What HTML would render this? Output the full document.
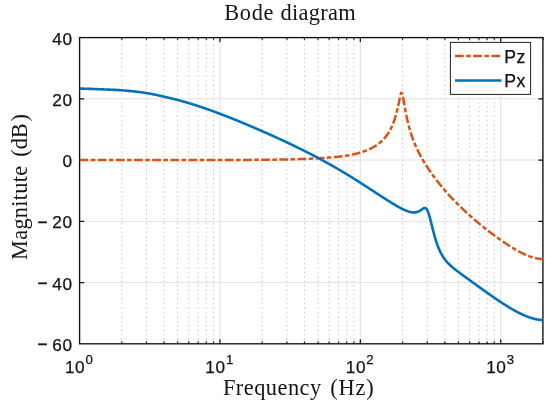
<!DOCTYPE html>
<html><head><meta charset="utf-8"><title>Bode diagram</title>
<style>html,body{margin:0;padding:0;background:#fff}body{width:550px;height:407px;position:relative;overflow:hidden}</style>
</head><body>
<svg width="550" height="407" viewBox="0 0 550 407" style="position:absolute;left:0;top:0">
<line x1="121.77" y1="39.75" x2="121.77" y2="343.9" stroke="#bfbfbf" stroke-width="1" stroke-dasharray="1.3 3.16"/>
<line x1="146.49" y1="39.75" x2="146.49" y2="343.9" stroke="#bfbfbf" stroke-width="1" stroke-dasharray="1.3 3.16"/>
<line x1="164.04" y1="39.75" x2="164.04" y2="343.9" stroke="#bfbfbf" stroke-width="1" stroke-dasharray="1.3 3.16"/>
<line x1="177.64" y1="39.75" x2="177.64" y2="343.9" stroke="#bfbfbf" stroke-width="1" stroke-dasharray="1.3 3.16"/>
<line x1="188.76" y1="39.75" x2="188.76" y2="343.9" stroke="#bfbfbf" stroke-width="1" stroke-dasharray="1.3 3.16"/>
<line x1="198.16" y1="39.75" x2="198.16" y2="343.9" stroke="#bfbfbf" stroke-width="1" stroke-dasharray="1.3 3.16"/>
<line x1="206.30" y1="39.75" x2="206.30" y2="343.9" stroke="#bfbfbf" stroke-width="1" stroke-dasharray="1.3 3.16"/>
<line x1="213.49" y1="39.75" x2="213.49" y2="343.9" stroke="#bfbfbf" stroke-width="1" stroke-dasharray="1.3 3.16"/>
<line x1="219.91" y1="37.5" x2="219.91" y2="343.9" stroke="#e1e1e1" stroke-width="1"/>
<line x1="262.18" y1="39.75" x2="262.18" y2="343.9" stroke="#bfbfbf" stroke-width="1" stroke-dasharray="1.3 3.16"/>
<line x1="286.90" y1="39.75" x2="286.90" y2="343.9" stroke="#bfbfbf" stroke-width="1" stroke-dasharray="1.3 3.16"/>
<line x1="304.45" y1="39.75" x2="304.45" y2="343.9" stroke="#bfbfbf" stroke-width="1" stroke-dasharray="1.3 3.16"/>
<line x1="318.05" y1="39.75" x2="318.05" y2="343.9" stroke="#bfbfbf" stroke-width="1" stroke-dasharray="1.3 3.16"/>
<line x1="329.17" y1="39.75" x2="329.17" y2="343.9" stroke="#bfbfbf" stroke-width="1" stroke-dasharray="1.3 3.16"/>
<line x1="338.57" y1="39.75" x2="338.57" y2="343.9" stroke="#bfbfbf" stroke-width="1" stroke-dasharray="1.3 3.16"/>
<line x1="346.71" y1="39.75" x2="346.71" y2="343.9" stroke="#bfbfbf" stroke-width="1" stroke-dasharray="1.3 3.16"/>
<line x1="353.90" y1="39.75" x2="353.90" y2="343.9" stroke="#bfbfbf" stroke-width="1" stroke-dasharray="1.3 3.16"/>
<line x1="360.32" y1="37.5" x2="360.32" y2="343.9" stroke="#e1e1e1" stroke-width="1"/>
<line x1="402.59" y1="39.75" x2="402.59" y2="343.9" stroke="#bfbfbf" stroke-width="1" stroke-dasharray="1.3 3.16"/>
<line x1="427.31" y1="39.75" x2="427.31" y2="343.9" stroke="#bfbfbf" stroke-width="1" stroke-dasharray="1.3 3.16"/>
<line x1="444.86" y1="39.75" x2="444.86" y2="343.9" stroke="#bfbfbf" stroke-width="1" stroke-dasharray="1.3 3.16"/>
<line x1="458.46" y1="39.75" x2="458.46" y2="343.9" stroke="#bfbfbf" stroke-width="1" stroke-dasharray="1.3 3.16"/>
<line x1="469.58" y1="39.75" x2="469.58" y2="343.9" stroke="#bfbfbf" stroke-width="1" stroke-dasharray="1.3 3.16"/>
<line x1="478.98" y1="39.75" x2="478.98" y2="343.9" stroke="#bfbfbf" stroke-width="1" stroke-dasharray="1.3 3.16"/>
<line x1="487.12" y1="39.75" x2="487.12" y2="343.9" stroke="#bfbfbf" stroke-width="1" stroke-dasharray="1.3 3.16"/>
<line x1="494.31" y1="39.75" x2="494.31" y2="343.9" stroke="#bfbfbf" stroke-width="1" stroke-dasharray="1.3 3.16"/>
<line x1="500.73" y1="37.5" x2="500.73" y2="343.9" stroke="#e1e1e1" stroke-width="1"/>
<line x1="543.00" y1="39.75" x2="543.00" y2="343.9" stroke="#bfbfbf" stroke-width="1" stroke-dasharray="1.3 3.16"/>
<line x1="79.5" y1="98.78" x2="543.0" y2="98.78" stroke="#e1e1e1" stroke-width="1"/>
<line x1="79.5" y1="160.06" x2="543.0" y2="160.06" stroke="#e1e1e1" stroke-width="1"/>
<line x1="79.5" y1="221.34" x2="543.0" y2="221.34" stroke="#e1e1e1" stroke-width="1"/>
<line x1="79.5" y1="282.62" x2="543.0" y2="282.62" stroke="#e1e1e1" stroke-width="1"/>
<path d="M121.77,343.9v-2.3M121.77,37.5v2.3M146.49,343.9v-2.3M146.49,37.5v2.3M164.04,343.9v-2.3M164.04,37.5v2.3M177.64,343.9v-2.3M177.64,37.5v2.3M188.76,343.9v-2.3M188.76,37.5v2.3M198.16,343.9v-2.3M198.16,37.5v2.3M206.30,343.9v-2.3M206.30,37.5v2.3M213.49,343.9v-2.3M213.49,37.5v2.3M219.91,343.9v-4.6M219.91,37.5v4.6M262.18,343.9v-2.3M262.18,37.5v2.3M286.90,343.9v-2.3M286.90,37.5v2.3M304.45,343.9v-2.3M304.45,37.5v2.3M318.05,343.9v-2.3M318.05,37.5v2.3M329.17,343.9v-2.3M329.17,37.5v2.3M338.57,343.9v-2.3M338.57,37.5v2.3M346.71,343.9v-2.3M346.71,37.5v2.3M353.90,343.9v-2.3M353.90,37.5v2.3M360.32,343.9v-4.6M360.32,37.5v4.6M402.59,343.9v-2.3M402.59,37.5v2.3M427.31,343.9v-2.3M427.31,37.5v2.3M444.86,343.9v-2.3M444.86,37.5v2.3M458.46,343.9v-2.3M458.46,37.5v2.3M469.58,343.9v-2.3M469.58,37.5v2.3M478.98,343.9v-2.3M478.98,37.5v2.3M487.12,343.9v-2.3M487.12,37.5v2.3M494.31,343.9v-2.3M494.31,37.5v2.3M500.73,343.9v-4.6M500.73,37.5v4.6M543.00,343.9v-2.3M543.00,37.5v2.3M79.5,98.78h4.6M543.0,98.78h-4.6M79.5,160.06h4.6M543.0,160.06h-4.6M79.5,221.34h4.6M543.0,221.34h-4.6M79.5,282.62h4.6M543.0,282.62h-4.6" stroke="#111" stroke-width="1.2" fill="none"/>
<rect x="79.6" y="37.6" width="463.3" height="306.2" fill="none" stroke="#111" stroke-width="1.35"/>
<clipPath id="c"><rect x="79.5" y="37.5" width="463.5" height="306.4"/></clipPath>
<g clip-path="url(#c)" fill="none" stroke-linejoin="round">
<path d="M79.50,160.06 L79.75,160.06 L80.00,160.06 L80.25,160.06 L80.50,160.06 L80.75,160.06 L81.00,160.06 L81.25,160.06 L81.50,160.06 L81.75,160.06 L82.00,160.06 L82.25,160.06 L82.50,160.06 L82.75,160.06 L83.00,160.06 L83.25,160.06 L83.50,160.06 L83.75,160.06 L84.00,160.06 L84.25,160.06 L84.50,160.06 L84.75,160.06 L85.00,160.06 L85.25,160.06 L85.50,160.06 L85.75,160.06 L86.00,160.06 L86.25,160.06 L86.50,160.06 L86.75,160.06 L87.00,160.06 L87.25,160.06 L87.50,160.06 L87.75,160.06 L88.00,160.06 L88.25,160.06 L88.50,160.06 L88.75,160.06 L89.00,160.06 L89.25,160.06 L89.50,160.06 L89.75,160.06 L90.00,160.06 L90.25,160.06 L90.50,160.06 L90.75,160.06 L91.00,160.06 L91.25,160.06 L91.50,160.06 L91.75,160.06 L92.00,160.06 L92.25,160.06 L92.50,160.06 L92.75,160.06 L93.00,160.06 L93.25,160.06 L93.50,160.06 L93.75,160.06 L94.00,160.06 L94.25,160.06 L94.50,160.06 L94.75,160.06 L95.00,160.06 L95.25,160.06 L95.50,160.06 L95.75,160.06 L96.00,160.06 L96.25,160.06 L96.50,160.06 L96.75,160.06 L97.00,160.06 L97.25,160.06 L97.50,160.06 L97.75,160.06 L98.00,160.06 L98.25,160.06 L98.50,160.06 L98.75,160.06 L99.00,160.06 L99.25,160.06 L99.50,160.06 L99.75,160.06 L100.00,160.06 L100.25,160.06 L100.50,160.06 L100.75,160.06 L101.00,160.06 L101.25,160.06 L101.50,160.06 L101.75,160.06 L102.00,160.06 L102.25,160.06 L102.50,160.06 L102.75,160.06 L103.00,160.06 L103.25,160.06 L103.50,160.06 L103.75,160.06 L104.00,160.06 L104.25,160.06 L104.50,160.06 L104.75,160.06 L105.00,160.06 L105.25,160.06 L105.50,160.06 L105.75,160.06 L106.00,160.06 L106.25,160.06 L106.50,160.06 L106.75,160.06 L107.00,160.06 L107.25,160.06 L107.50,160.06 L107.75,160.06 L108.00,160.06 L108.25,160.06 L108.50,160.06 L108.75,160.06 L109.00,160.06 L109.25,160.06 L109.50,160.06 L109.75,160.06 L110.00,160.06 L110.25,160.06 L110.50,160.06 L110.75,160.06 L111.00,160.06 L111.25,160.06 L111.50,160.06 L111.75,160.06 L112.00,160.06 L112.25,160.06 L112.50,160.06 L112.75,160.06 L113.00,160.06 L113.25,160.06 L113.50,160.06 L113.75,160.06 L114.00,160.06 L114.25,160.06 L114.50,160.06 L114.75,160.06 L115.00,160.06 L115.25,160.06 L115.50,160.06 L115.75,160.06 L116.00,160.06 L116.25,160.06 L116.50,160.06 L116.75,160.06 L117.00,160.06 L117.25,160.06 L117.50,160.06 L117.75,160.06 L118.00,160.06 L118.25,160.06 L118.50,160.06 L118.75,160.06 L119.00,160.06 L119.25,160.06 L119.50,160.06 L119.75,160.06 L120.00,160.06 L120.25,160.06 L120.50,160.06 L120.75,160.06 L121.00,160.06 L121.25,160.06 L121.50,160.06 L121.75,160.06 L122.00,160.06 L122.25,160.06 L122.50,160.06 L122.75,160.06 L123.00,160.06 L123.25,160.06 L123.50,160.06 L123.75,160.06 L124.00,160.06 L124.25,160.06 L124.50,160.06 L124.75,160.06 L125.00,160.06 L125.25,160.06 L125.50,160.06 L125.75,160.06 L126.00,160.06 L126.25,160.06 L126.50,160.06 L126.75,160.06 L127.00,160.06 L127.25,160.06 L127.50,160.06 L127.75,160.06 L128.00,160.06 L128.25,160.06 L128.50,160.06 L128.75,160.06 L129.00,160.06 L129.25,160.06 L129.50,160.06 L129.75,160.06 L130.00,160.06 L130.25,160.06 L130.50,160.06 L130.75,160.06 L131.00,160.06 L131.25,160.06 L131.50,160.06 L131.75,160.06 L132.00,160.06 L132.25,160.06 L132.50,160.06 L132.75,160.06 L133.00,160.06 L133.25,160.06 L133.50,160.06 L133.75,160.06 L134.00,160.06 L134.25,160.06 L134.50,160.06 L134.75,160.06 L135.00,160.06 L135.25,160.06 L135.50,160.06 L135.75,160.06 L136.00,160.06 L136.25,160.06 L136.50,160.06 L136.75,160.06 L137.00,160.06 L137.25,160.06 L137.50,160.06 L137.75,160.06 L138.00,160.06 L138.25,160.06 L138.50,160.06 L138.75,160.06 L139.00,160.06 L139.25,160.06 L139.50,160.06 L139.75,160.06 L140.00,160.05 L140.25,160.05 L140.50,160.05 L140.75,160.05 L141.00,160.05 L141.25,160.05 L141.50,160.05 L141.75,160.05 L142.00,160.05 L142.25,160.05 L142.50,160.05 L142.75,160.05 L143.00,160.05 L143.25,160.05 L143.50,160.05 L143.75,160.05 L144.00,160.05 L144.25,160.05 L144.50,160.05 L144.75,160.05 L145.00,160.05 L145.25,160.05 L145.50,160.05 L145.75,160.05 L146.00,160.05 L146.25,160.05 L146.50,160.05 L146.75,160.05 L147.00,160.05 L147.25,160.05 L147.50,160.05 L147.75,160.05 L148.00,160.05 L148.25,160.05 L148.50,160.05 L148.75,160.05 L149.00,160.05 L149.25,160.05 L149.50,160.05 L149.75,160.05 L150.00,160.05 L150.25,160.05 L150.50,160.05 L150.75,160.05 L151.00,160.05 L151.25,160.05 L151.50,160.05 L151.75,160.05 L152.00,160.05 L152.25,160.05 L152.50,160.05 L152.75,160.05 L153.00,160.05 L153.25,160.05 L153.50,160.05 L153.75,160.05 L154.00,160.05 L154.25,160.05 L154.50,160.05 L154.75,160.05 L155.00,160.05 L155.25,160.05 L155.50,160.05 L155.75,160.05 L156.00,160.05 L156.25,160.05 L156.50,160.05 L156.75,160.05 L157.00,160.05 L157.25,160.05 L157.50,160.05 L157.75,160.05 L158.00,160.05 L158.25,160.05 L158.50,160.05 L158.75,160.05 L159.00,160.05 L159.25,160.05 L159.50,160.05 L159.75,160.05 L160.00,160.05 L160.25,160.05 L160.50,160.05 L160.75,160.05 L161.00,160.05 L161.25,160.05 L161.50,160.05 L161.75,160.05 L162.00,160.05 L162.25,160.05 L162.50,160.05 L162.75,160.05 L163.00,160.05 L163.25,160.05 L163.50,160.05 L163.75,160.05 L164.00,160.05 L164.25,160.05 L164.50,160.05 L164.75,160.05 L165.00,160.05 L165.25,160.05 L165.50,160.05 L165.75,160.05 L166.00,160.05 L166.25,160.05 L166.50,160.05 L166.75,160.05 L167.00,160.05 L167.25,160.05 L167.50,160.05 L167.75,160.05 L168.00,160.05 L168.25,160.05 L168.50,160.05 L168.75,160.05 L169.00,160.05 L169.25,160.05 L169.50,160.05 L169.75,160.05 L170.00,160.05 L170.25,160.05 L170.50,160.05 L170.75,160.05 L171.00,160.05 L171.25,160.05 L171.50,160.05 L171.75,160.05 L172.00,160.05 L172.25,160.05 L172.50,160.05 L172.75,160.05 L173.00,160.05 L173.25,160.05 L173.50,160.04 L173.75,160.04 L174.00,160.04 L174.25,160.04 L174.50,160.04 L174.75,160.04 L175.00,160.04 L175.25,160.04 L175.50,160.04 L175.75,160.04 L176.00,160.04 L176.25,160.04 L176.50,160.04 L176.75,160.04 L177.00,160.04 L177.25,160.04 L177.50,160.04 L177.75,160.04 L178.00,160.04 L178.25,160.04 L178.50,160.04 L178.75,160.04 L179.00,160.04 L179.25,160.04 L179.50,160.04 L179.75,160.04 L180.00,160.04 L180.25,160.04 L180.50,160.04 L180.75,160.04 L181.00,160.04 L181.25,160.04 L181.50,160.04 L181.75,160.04 L182.00,160.04 L182.25,160.04 L182.50,160.04 L182.75,160.04 L183.00,160.04 L183.25,160.04 L183.50,160.04 L183.75,160.04 L184.00,160.04 L184.25,160.04 L184.50,160.04 L184.75,160.04 L185.00,160.04 L185.25,160.04 L185.50,160.04 L185.75,160.04 L186.00,160.04 L186.25,160.04 L186.50,160.04 L186.75,160.04 L187.00,160.04 L187.25,160.04 L187.50,160.04 L187.75,160.04 L188.00,160.04 L188.25,160.04 L188.50,160.04 L188.75,160.04 L189.00,160.03 L189.25,160.03 L189.50,160.03 L189.75,160.03 L190.00,160.03 L190.25,160.03 L190.50,160.03 L190.75,160.03 L191.00,160.03 L191.25,160.03 L191.50,160.03 L191.75,160.03 L192.00,160.03 L192.25,160.03 L192.50,160.03 L192.75,160.03 L193.00,160.03 L193.25,160.03 L193.50,160.03 L193.75,160.03 L194.00,160.03 L194.25,160.03 L194.50,160.03 L194.75,160.03 L195.00,160.03 L195.25,160.03 L195.50,160.03 L195.75,160.03 L196.00,160.03 L196.25,160.03 L196.50,160.03 L196.75,160.03 L197.00,160.03 L197.25,160.03 L197.50,160.03 L197.75,160.03 L198.00,160.03 L198.25,160.03 L198.50,160.03 L198.75,160.03 L199.00,160.03 L199.25,160.02 L199.50,160.02 L199.75,160.02 L200.00,160.02 L200.25,160.02 L200.50,160.02 L200.75,160.02 L201.00,160.02 L201.25,160.02 L201.50,160.02 L201.75,160.02 L202.00,160.02 L202.25,160.02 L202.50,160.02 L202.75,160.02 L203.00,160.02 L203.25,160.02 L203.50,160.02 L203.75,160.02 L204.00,160.02 L204.25,160.02 L204.50,160.02 L204.75,160.02 L205.00,160.02 L205.25,160.02 L205.50,160.02 L205.75,160.02 L206.00,160.02 L206.25,160.02 L206.50,160.02 L206.75,160.02 L207.00,160.01 L207.25,160.01 L207.50,160.01 L207.75,160.01 L208.00,160.01 L208.25,160.01 L208.50,160.01 L208.75,160.01 L209.00,160.01 L209.25,160.01 L209.50,160.01 L209.75,160.01 L210.00,160.01 L210.25,160.01 L210.50,160.01 L210.75,160.01 L211.00,160.01 L211.25,160.01 L211.50,160.01 L211.75,160.01 L212.00,160.01 L212.25,160.01 L212.50,160.01 L212.75,160.01 L213.00,160.00 L213.25,160.00 L213.50,160.00 L213.75,160.00 L214.00,160.00 L214.25,160.00 L214.50,160.00 L214.75,160.00 L215.00,160.00 L215.25,160.00 L215.50,160.00 L215.75,160.00 L216.00,160.00 L216.25,160.00 L216.50,160.00 L216.75,160.00 L217.00,160.00 L217.25,160.00 L217.50,160.00 L217.75,160.00 L218.00,160.00 L218.25,159.99 L218.50,159.99 L218.75,159.99 L219.00,159.99 L219.25,159.99 L219.50,159.99 L219.75,159.99 L220.00,159.99 L220.25,159.99 L220.50,159.99 L220.75,159.99 L221.00,159.99 L221.25,159.99 L221.50,159.99 L221.75,159.99 L222.00,159.99 L222.25,159.99 L222.50,159.98 L222.75,159.98 L223.00,159.98 L223.25,159.98 L223.50,159.98 L223.75,159.98 L224.00,159.98 L224.25,159.98 L224.50,159.98 L224.75,159.98 L225.00,159.98 L225.25,159.98 L225.50,159.98 L225.75,159.98 L226.00,159.98 L226.25,159.97 L226.50,159.97 L226.75,159.97 L227.00,159.97 L227.25,159.97 L227.50,159.97 L227.75,159.97 L228.00,159.97 L228.25,159.97 L228.50,159.97 L228.75,159.97 L229.00,159.97 L229.25,159.97 L229.50,159.97 L229.75,159.96 L230.00,159.96 L230.25,159.96 L230.50,159.96 L230.75,159.96 L231.00,159.96 L231.25,159.96 L231.50,159.96 L231.75,159.96 L232.00,159.96 L232.25,159.96 L232.50,159.96 L232.75,159.95 L233.00,159.95 L233.25,159.95 L233.50,159.95 L233.75,159.95 L234.00,159.95 L234.25,159.95 L234.50,159.95 L234.75,159.95 L235.00,159.95 L235.25,159.95 L235.50,159.94 L235.75,159.94 L236.00,159.94 L236.25,159.94 L236.50,159.94 L236.75,159.94 L237.00,159.94 L237.25,159.94 L237.50,159.94 L237.75,159.94 L238.00,159.93 L238.25,159.93 L238.50,159.93 L238.75,159.93 L239.00,159.93 L239.25,159.93 L239.50,159.93 L239.75,159.93 L240.00,159.93 L240.25,159.93 L240.50,159.92 L240.75,159.92 L241.00,159.92 L241.25,159.92 L241.50,159.92 L241.75,159.92 L242.00,159.92 L242.25,159.92 L242.50,159.91 L242.75,159.91 L243.00,159.91 L243.25,159.91 L243.50,159.91 L243.75,159.91 L244.00,159.91 L244.25,159.91 L244.50,159.90 L244.75,159.90 L245.00,159.90 L245.25,159.90 L245.50,159.90 L245.75,159.90 L246.00,159.90 L246.25,159.90 L246.50,159.89 L246.75,159.89 L247.00,159.89 L247.25,159.89 L247.50,159.89 L247.75,159.89 L248.00,159.89 L248.25,159.88 L248.50,159.88 L248.75,159.88 L249.00,159.88 L249.25,159.88 L249.50,159.88 L249.75,159.88 L250.00,159.87 L250.25,159.87 L250.50,159.87 L250.75,159.87 L251.00,159.87 L251.25,159.87 L251.50,159.86 L251.75,159.86 L252.00,159.86 L252.25,159.86 L252.50,159.86 L252.75,159.86 L253.00,159.85 L253.25,159.85 L253.50,159.85 L253.75,159.85 L254.00,159.85 L254.25,159.85 L254.50,159.84 L254.75,159.84 L255.00,159.84 L255.25,159.84 L255.50,159.84 L255.75,159.84 L256.00,159.83 L256.25,159.83 L256.50,159.83 L256.75,159.83 L257.00,159.83 L257.25,159.82 L257.50,159.82 L257.75,159.82 L258.00,159.82 L258.25,159.82 L258.50,159.81 L258.75,159.81 L259.00,159.81 L259.25,159.81 L259.50,159.81 L259.75,159.80 L260.00,159.80 L260.25,159.80 L260.50,159.80 L260.75,159.80 L261.00,159.79 L261.25,159.79 L261.50,159.79 L261.75,159.79 L262.00,159.78 L262.25,159.78 L262.50,159.78 L262.75,159.78 L263.00,159.77 L263.25,159.77 L263.50,159.77 L263.75,159.77 L264.00,159.77 L264.25,159.76 L264.50,159.76 L264.75,159.76 L265.00,159.76 L265.25,159.75 L265.50,159.75 L265.75,159.75 L266.00,159.75 L266.25,159.74 L266.50,159.74 L266.75,159.74 L267.00,159.73 L267.25,159.73 L267.50,159.73 L267.75,159.73 L268.00,159.72 L268.25,159.72 L268.50,159.72 L268.75,159.72 L269.00,159.71 L269.25,159.71 L269.50,159.71 L269.75,159.70 L270.00,159.70 L270.25,159.70 L270.50,159.69 L270.75,159.69 L271.00,159.69 L271.25,159.69 L271.50,159.68 L271.75,159.68 L272.00,159.68 L272.25,159.67 L272.50,159.67 L272.75,159.67 L273.00,159.66 L273.25,159.66 L273.50,159.66 L273.75,159.65 L274.00,159.65 L274.25,159.65 L274.50,159.64 L274.75,159.64 L275.00,159.64 L275.25,159.63 L275.50,159.63 L275.75,159.63 L276.00,159.62 L276.25,159.62 L276.50,159.61 L276.75,159.61 L277.00,159.61 L277.25,159.60 L277.50,159.60 L277.75,159.60 L278.00,159.59 L278.25,159.59 L278.50,159.58 L278.75,159.58 L279.00,159.58 L279.25,159.57 L279.50,159.57 L279.75,159.56 L280.00,159.56 L280.25,159.56 L280.50,159.55 L280.75,159.55 L281.00,159.54 L281.25,159.54 L281.50,159.53 L281.75,159.53 L282.00,159.53 L282.25,159.52 L282.50,159.52 L282.75,159.51 L283.00,159.51 L283.25,159.50 L283.50,159.50 L283.75,159.49 L284.00,159.49 L284.25,159.48 L284.50,159.48 L284.75,159.47 L285.00,159.47 L285.25,159.46 L285.50,159.46 L285.75,159.46 L286.00,159.45 L286.25,159.44 L286.50,159.44 L286.75,159.43 L287.00,159.43 L287.25,159.42 L287.50,159.42 L287.75,159.41 L288.00,159.41 L288.25,159.40 L288.50,159.40 L288.75,159.39 L289.00,159.39 L289.25,159.38 L289.50,159.37 L289.75,159.37 L290.00,159.36 L290.25,159.36 L290.50,159.35 L290.75,159.35 L291.00,159.34 L291.25,159.33 L291.50,159.33 L291.75,159.32 L292.00,159.32 L292.25,159.31 L292.50,159.30 L292.75,159.30 L293.00,159.29 L293.25,159.28 L293.50,159.28 L293.75,159.27 L294.00,159.26 L294.25,159.26 L294.50,159.25 L294.75,159.24 L295.00,159.24 L295.25,159.23 L295.50,159.22 L295.75,159.22 L296.00,159.21 L296.25,159.20 L296.50,159.20 L296.75,159.19 L297.00,159.18 L297.25,159.17 L297.50,159.17 L297.75,159.16 L298.00,159.15 L298.25,159.14 L298.50,159.14 L298.75,159.13 L299.00,159.12 L299.25,159.11 L299.50,159.10 L299.75,159.10 L300.00,159.09 L300.25,159.08 L300.50,159.07 L300.75,159.06 L301.00,159.06 L301.25,159.05 L301.50,159.04 L301.75,159.03 L302.00,159.02 L302.25,159.01 L302.50,159.00 L302.75,158.99 L303.00,158.99 L303.25,158.98 L303.50,158.97 L303.75,158.96 L304.00,158.95 L304.25,158.94 L304.50,158.93 L304.75,158.92 L305.00,158.91 L305.25,158.90 L305.50,158.89 L305.75,158.88 L306.00,158.87 L306.25,158.86 L306.50,158.85 L306.75,158.84 L307.00,158.83 L307.25,158.82 L307.50,158.81 L307.75,158.80 L308.00,158.79 L308.25,158.78 L308.50,158.77 L308.75,158.76 L309.00,158.75 L309.25,158.74 L309.50,158.72 L309.75,158.71 L310.00,158.70 L310.25,158.69 L310.50,158.68 L310.75,158.67 L311.00,158.65 L311.25,158.64 L311.50,158.63 L311.75,158.62 L312.00,158.61 L312.25,158.59 L312.50,158.58 L312.75,158.57 L313.00,158.56 L313.25,158.54 L313.50,158.53 L313.75,158.52 L314.00,158.51 L314.25,158.49 L314.50,158.48 L314.75,158.47 L315.00,158.45 L315.25,158.44 L315.50,158.42 L315.75,158.41 L316.00,158.40 L316.25,158.38 L316.50,158.37 L316.75,158.35 L317.00,158.34 L317.25,158.32 L317.50,158.31 L317.75,158.30 L318.00,158.28 L318.25,158.26 L318.50,158.25 L318.75,158.23 L319.00,158.22 L319.25,158.20 L319.50,158.19 L319.75,158.17 L320.00,158.16 L320.25,158.14 L320.50,158.12 L320.75,158.11 L321.00,158.09 L321.25,158.07 L321.50,158.06 L321.75,158.04 L322.00,158.03 L322.25,158.01 L322.50,157.99 L322.75,157.98 L323.00,157.96 L323.25,157.94 L323.50,157.93 L323.75,157.91 L324.00,157.89 L324.25,157.88 L324.50,157.86 L324.75,157.84 L325.00,157.83 L325.25,157.81 L325.50,157.79 L325.75,157.78 L326.00,157.76 L326.25,157.74 L326.50,157.72 L326.75,157.71 L327.00,157.69 L327.25,157.67 L327.50,157.65 L327.75,157.64 L328.00,157.62 L328.25,157.60 L328.50,157.58 L328.75,157.56 L329.00,157.55 L329.25,157.53 L329.50,157.51 L329.75,157.49 L330.00,157.47 L330.25,157.45 L330.50,157.43 L330.75,157.41 L331.00,157.39 L331.25,157.37 L331.50,157.35 L331.75,157.33 L332.00,157.31 L332.25,157.29 L332.50,157.27 L332.75,157.25 L333.00,157.23 L333.25,157.21 L333.50,157.19 L333.75,157.17 L334.00,157.14 L334.25,157.12 L334.50,157.10 L334.75,157.08 L335.00,157.05 L335.25,157.03 L335.50,157.01 L335.75,156.98 L336.00,156.96 L336.25,156.93 L336.50,156.91 L336.75,156.89 L337.00,156.86 L337.25,156.84 L337.50,156.81 L337.75,156.78 L338.00,156.76 L338.25,156.73 L338.50,156.70 L338.75,156.68 L339.00,156.65 L339.25,156.62 L339.50,156.59 L339.75,156.57 L340.00,156.54 L340.25,156.51 L340.50,156.48 L340.75,156.45 L341.00,156.42 L341.25,156.39 L341.50,156.36 L341.75,156.32 L342.00,156.29 L342.25,156.26 L342.50,156.23 L342.75,156.20 L343.00,156.16 L343.25,156.13 L343.50,156.09 L343.75,156.06 L344.00,156.02 L344.25,155.99 L344.50,155.95 L344.75,155.92 L345.00,155.88 L345.25,155.84 L345.50,155.80 L345.75,155.77 L346.00,155.73 L346.25,155.69 L346.50,155.65 L346.75,155.61 L347.00,155.57 L347.25,155.52 L347.50,155.48 L347.75,155.44 L348.00,155.40 L348.25,155.35 L348.50,155.31 L348.75,155.26 L349.00,155.22 L349.25,155.17 L349.50,155.13 L349.75,155.08 L350.00,155.03 L350.25,154.98 L350.50,154.93 L350.75,154.88 L351.00,154.84 L351.25,154.78 L351.50,154.73 L351.75,154.68 L352.00,154.63 L352.25,154.58 L352.50,154.52 L352.75,154.47 L353.00,154.42 L353.25,154.36 L353.50,154.31 L353.75,154.25 L354.00,154.19 L354.25,154.14 L354.50,154.08 L354.75,154.02 L355.00,153.96 L355.25,153.90 L355.50,153.84 L355.75,153.78 L356.00,153.72 L356.25,153.66 L356.50,153.59 L356.75,153.53 L357.00,153.47 L357.25,153.40 L357.50,153.34 L357.75,153.27 L358.00,153.20 L358.25,153.13 L358.50,153.07 L358.75,153.00 L359.00,152.93 L359.25,152.86 L359.50,152.78 L359.75,152.71 L360.00,152.64 L360.25,152.56 L360.50,152.49 L360.75,152.41 L361.00,152.34 L361.25,152.26 L361.50,152.18 L361.75,152.10 L362.00,152.02 L362.25,151.94 L362.50,151.86 L362.75,151.77 L363.00,151.69 L363.25,151.60 L363.50,151.52 L363.75,151.43 L364.00,151.34 L364.25,151.25 L364.50,151.16 L364.75,151.07 L365.00,150.98 L365.25,150.89 L365.50,150.79 L365.75,150.70 L366.00,150.60 L366.25,150.50 L366.50,150.40 L366.75,150.30 L367.00,150.20 L367.25,150.10 L367.50,149.99 L367.75,149.89 L368.00,149.78 L368.25,149.67 L368.50,149.57 L368.75,149.45 L369.00,149.34 L369.25,149.23 L369.50,149.11 L369.75,149.00 L370.00,148.88 L370.25,148.76 L370.50,148.64 L370.75,148.52 L371.00,148.39 L371.25,148.27 L371.50,148.14 L371.75,148.01 L372.00,147.88 L372.25,147.75 L372.50,147.61 L372.75,147.48 L373.00,147.34 L373.25,147.20 L373.50,147.06 L373.75,146.92 L374.00,146.77 L374.25,146.62 L374.50,146.47 L374.75,146.32 L375.00,146.17 L375.25,146.01 L375.50,145.85 L375.75,145.69 L376.00,145.53 L376.25,145.37 L376.50,145.20 L376.75,145.03 L377.00,144.86 L377.25,144.68 L377.50,144.50 L377.75,144.32 L378.00,144.14 L378.25,143.96 L378.50,143.77 L378.75,143.58 L379.00,143.38 L379.25,143.18 L379.50,142.98 L379.75,142.78 L380.00,142.57 L380.25,142.36 L380.50,142.15 L380.75,141.93 L381.00,141.71 L381.25,141.49 L381.50,141.26 L381.75,141.03 L382.00,140.80 L382.25,140.56 L382.50,140.31 L382.75,140.06 L383.00,139.81 L383.25,139.56 L383.50,139.29 L383.75,139.03 L384.00,138.76 L384.25,138.48 L384.50,138.20 L384.75,137.92 L385.00,137.63 L385.25,137.33 L385.50,137.02 L385.75,136.71 L386.00,136.40 L386.25,136.07 L386.50,135.74 L386.75,135.40 L387.00,135.05 L387.25,134.70 L387.50,134.33 L387.75,133.96 L388.00,133.58 L388.25,133.19 L388.50,132.80 L388.75,132.39 L389.00,131.97 L389.25,131.55 L389.50,131.11 L389.75,130.67 L390.00,130.21 L390.25,129.75 L390.50,129.27 L390.75,128.78 L391.00,128.28 L391.25,127.76 L391.50,127.23 L391.75,126.69 L392.00,126.14 L392.25,125.57 L392.50,124.98 L392.75,124.38 L393.00,123.76 L393.25,123.13 L393.50,122.48 L393.75,121.80 L394.00,121.11 L394.25,120.40 L394.50,119.67 L394.75,118.91 L395.00,118.13 L395.25,117.33 L395.50,116.50 L395.75,115.64 L396.00,114.76 L396.25,113.84 L396.50,112.90 L396.75,111.92 L397.00,110.91 L397.25,109.87 L397.50,108.80 L397.75,107.69 L398.00,106.55 L398.25,105.38 L398.50,104.17 L398.75,102.95 L399.00,101.71 L399.25,100.46 L399.50,99.21 L399.75,97.99 L400.00,96.82 L400.25,95.73 L400.50,94.75 L400.75,93.92 L401.00,93.29 L401.25,92.89 L401.50,92.74 L401.75,92.87 L402.00,93.27 L402.25,93.93 L402.50,94.81 L402.75,95.88 L403.00,97.09 L403.25,98.41 L403.50,99.81 L403.75,101.24 L404.00,102.71 L404.25,104.17 L404.50,105.63 L404.75,107.06 L405.00,108.47 L405.25,109.85 L405.50,111.20 L405.75,112.52 L406.00,113.80 L406.25,115.05 L406.50,116.26 L406.75,117.44 L407.00,118.59 L407.25,119.71 L407.50,120.80 L407.75,121.85 L408.00,122.88 L408.25,123.89 L408.50,124.87 L408.75,125.83 L409.00,126.76 L409.25,127.67 L409.50,128.56 L409.75,129.43 L410.00,130.28 L410.25,131.12 L410.50,131.93 L410.75,132.73 L411.00,133.51 L411.25,134.28 L411.50,135.03 L411.75,135.77 L412.00,136.50 L412.25,137.21 L412.50,137.91 L412.75,138.60 L413.00,139.28 L413.25,139.94 L413.50,140.60 L413.75,141.24 L414.00,141.88 L414.25,142.51 L414.50,143.12 L414.75,143.73 L415.00,144.33 L415.25,144.92 L415.50,145.50 L415.75,146.08 L416.00,146.65 L416.25,147.21 L416.50,147.76 L416.75,148.31 L417.00,148.85 L417.25,149.38 L417.50,149.91 L417.75,150.43 L418.00,150.94 L418.25,151.45 L418.50,151.96 L418.75,152.46 L419.00,152.95 L419.25,153.44 L419.50,153.92 L419.75,154.40 L420.00,154.88 L420.25,155.35 L420.50,155.81 L420.75,156.28 L421.00,156.73 L421.25,157.19 L421.50,157.63 L421.75,158.08 L422.00,158.52 L422.25,158.96 L422.50,159.39 L422.75,159.82 L423.00,160.25 L423.25,160.67 L423.50,161.09 L423.75,161.51 L424.00,161.92 L424.25,162.33 L424.50,162.74 L424.75,163.15 L425.00,163.55 L425.25,163.95 L425.50,164.35 L425.75,164.74 L426.00,165.13 L426.25,165.53 L426.50,165.91 L426.75,166.30 L427.00,166.69 L427.25,167.07 L427.50,167.45 L427.75,167.83 L428.00,168.21 L428.25,168.59 L428.50,168.96 L428.75,169.34 L429.00,169.71 L429.25,170.08 L429.50,170.45 L429.75,170.81 L430.00,171.18 L430.25,171.54 L430.50,171.90 L430.75,172.26 L431.00,172.62 L431.25,172.98 L431.50,173.34 L431.75,173.69 L432.00,174.04 L432.25,174.39 L432.50,174.74 L432.75,175.09 L433.00,175.44 L433.25,175.78 L433.50,176.13 L433.75,176.47 L434.00,176.81 L434.25,177.15 L434.50,177.49 L434.75,177.83 L435.00,178.16 L435.25,178.50 L435.50,178.83 L435.75,179.16 L436.00,179.49 L436.25,179.82 L436.50,180.15 L436.75,180.47 L437.00,180.80 L437.25,181.12 L437.50,181.44 L437.75,181.76 L438.00,182.08 L438.25,182.40 L438.50,182.72 L438.75,183.03 L439.00,183.34 L439.25,183.66 L439.50,183.97 L439.75,184.27 L440.00,184.58 L440.25,184.89 L440.50,185.19 L440.75,185.50 L441.00,185.80 L441.25,186.11 L441.50,186.41 L441.75,186.71 L442.00,187.01 L442.25,187.31 L442.50,187.61 L442.75,187.91 L443.00,188.21 L443.25,188.50 L443.50,188.80 L443.75,189.10 L444.00,189.39 L444.25,189.68 L444.50,189.98 L444.75,190.27 L445.00,190.56 L445.25,190.85 L445.50,191.14 L445.75,191.43 L446.00,191.72 L446.25,192.00 L446.50,192.29 L446.75,192.58 L447.00,192.86 L447.25,193.14 L447.50,193.43 L447.75,193.71 L448.00,193.99 L448.25,194.27 L448.50,194.55 L448.75,194.83 L449.00,195.11 L449.25,195.38 L449.50,195.66 L449.75,195.93 L450.00,196.21 L450.25,196.48 L450.50,196.75 L450.75,197.02 L451.00,197.29 L451.25,197.56 L451.50,197.83 L451.75,198.10 L452.00,198.36 L452.25,198.63 L452.50,198.89 L452.75,199.16 L453.00,199.42 L453.25,199.68 L453.50,199.94 L453.75,200.20 L454.00,200.46 L454.25,200.72 L454.50,200.97 L454.75,201.23 L455.00,201.48 L455.25,201.74 L455.50,201.99 L455.75,202.24 L456.00,202.49 L456.25,202.74 L456.50,202.99 L456.75,203.24 L457.00,203.49 L457.25,203.74 L457.50,203.98 L457.75,204.23 L458.00,204.48 L458.25,204.72 L458.50,204.97 L458.75,205.21 L459.00,205.46 L459.25,205.70 L459.50,205.94 L459.75,206.18 L460.00,206.42 L460.25,206.66 L460.50,206.90 L460.75,207.14 L461.00,207.38 L461.25,207.62 L461.50,207.86 L461.75,208.10 L462.00,208.33 L462.25,208.57 L462.50,208.81 L462.75,209.04 L463.00,209.28 L463.25,209.51 L463.50,209.74 L463.75,209.98 L464.00,210.21 L464.25,210.44 L464.50,210.67 L464.75,210.91 L465.00,211.14 L465.25,211.37 L465.50,211.60 L465.75,211.83 L466.00,212.06 L466.25,212.28 L466.50,212.51 L466.75,212.74 L467.00,212.97 L467.25,213.19 L467.50,213.42 L467.75,213.65 L468.00,213.87 L468.25,214.10 L468.50,214.32 L468.75,214.55 L469.00,214.77 L469.25,214.99 L469.50,215.22 L469.75,215.44 L470.00,215.66 L470.25,215.88 L470.50,216.11 L470.75,216.33 L471.00,216.55 L471.25,216.77 L471.50,216.99 L471.75,217.21 L472.00,217.43 L472.25,217.65 L472.50,217.87 L472.75,218.08 L473.00,218.30 L473.25,218.52 L473.50,218.74 L473.75,218.95 L474.00,219.17 L474.25,219.39 L474.50,219.60 L474.75,219.82 L475.00,220.03 L475.25,220.25 L475.50,220.46 L475.75,220.68 L476.00,220.89 L476.25,221.11 L476.50,221.32 L476.75,221.53 L477.00,221.74 L477.25,221.95 L477.50,222.17 L477.75,222.38 L478.00,222.59 L478.25,222.80 L478.50,223.01 L478.75,223.21 L479.00,223.42 L479.25,223.63 L479.50,223.84 L479.75,224.05 L480.00,224.25 L480.25,224.46 L480.50,224.67 L480.75,224.87 L481.00,225.08 L481.25,225.28 L481.50,225.49 L481.75,225.69 L482.00,225.89 L482.25,226.10 L482.50,226.30 L482.75,226.50 L483.00,226.70 L483.25,226.91 L483.50,227.11 L483.75,227.31 L484.00,227.51 L484.25,227.71 L484.50,227.91 L484.75,228.11 L485.00,228.31 L485.25,228.51 L485.50,228.70 L485.75,228.90 L486.00,229.10 L486.25,229.30 L486.50,229.49 L486.75,229.69 L487.00,229.89 L487.25,230.08 L487.50,230.28 L487.75,230.47 L488.00,230.67 L488.25,230.86 L488.50,231.06 L488.75,231.25 L489.00,231.44 L489.25,231.64 L489.50,231.83 L489.75,232.02 L490.00,232.21 L490.25,232.40 L490.50,232.59 L490.75,232.78 L491.00,232.98 L491.25,233.17 L491.50,233.35 L491.75,233.54 L492.00,233.73 L492.25,233.92 L492.50,234.11 L492.75,234.30 L493.00,234.49 L493.25,234.67 L493.50,234.86 L493.75,235.05 L494.00,235.23 L494.25,235.42 L494.50,235.60 L494.75,235.79 L495.00,235.97 L495.25,236.16 L495.50,236.34 L495.75,236.52 L496.00,236.71 L496.25,236.89 L496.50,237.07 L496.75,237.25 L497.00,237.43 L497.25,237.61 L497.50,237.79 L497.75,237.97 L498.00,238.15 L498.25,238.33 L498.50,238.51 L498.75,238.68 L499.00,238.86 L499.25,239.04 L499.50,239.21 L499.75,239.39 L500.00,239.56 L500.25,239.74 L500.50,239.91 L500.75,240.08 L501.00,240.26 L501.25,240.43 L501.50,240.60 L501.75,240.77 L502.00,240.95 L502.25,241.12 L502.50,241.29 L502.75,241.46 L503.00,241.63 L503.25,241.80 L503.50,241.96 L503.75,242.13 L504.00,242.30 L504.25,242.47 L504.50,242.64 L504.75,242.80 L505.00,242.97 L505.25,243.14 L505.50,243.30 L505.75,243.47 L506.00,243.63 L506.25,243.80 L506.50,243.96 L506.75,244.13 L507.00,244.29 L507.25,244.45 L507.50,244.62 L507.75,244.78 L508.00,244.94 L508.25,245.10 L508.50,245.27 L508.75,245.43 L509.00,245.59 L509.25,245.75 L509.50,245.91 L509.75,246.07 L510.00,246.23 L510.25,246.39 L510.50,246.55 L510.75,246.71 L511.00,246.86 L511.25,247.02 L511.50,247.18 L511.75,247.33 L512.00,247.49 L512.25,247.64 L512.50,247.80 L512.75,247.95 L513.00,248.10 L513.25,248.25 L513.50,248.40 L513.75,248.55 L514.00,248.70 L514.25,248.85 L514.50,249.00 L514.75,249.15 L515.00,249.29 L515.25,249.44 L515.50,249.58 L515.75,249.73 L516.00,249.87 L516.25,250.02 L516.50,250.16 L516.75,250.30 L517.00,250.44 L517.25,250.58 L517.50,250.72 L517.75,250.86 L518.00,251.00 L518.25,251.13 L518.50,251.27 L518.75,251.40 L519.00,251.54 L519.25,251.67 L519.50,251.80 L519.75,251.93 L520.00,252.07 L520.25,252.20 L520.50,252.32 L520.75,252.45 L521.00,252.58 L521.25,252.71 L521.50,252.83 L521.75,252.96 L522.00,253.08 L522.25,253.20 L522.50,253.33 L522.75,253.45 L523.00,253.57 L523.25,253.69 L523.50,253.80 L523.75,253.92 L524.00,254.04 L524.25,254.15 L524.50,254.27 L524.75,254.38 L525.00,254.49 L525.25,254.60 L525.50,254.71 L525.75,254.82 L526.00,254.93 L526.25,255.03 L526.50,255.14 L526.75,255.24 L527.00,255.35 L527.25,255.45 L527.50,255.55 L527.75,255.65 L528.00,255.75 L528.25,255.85 L528.50,255.94 L528.75,256.04 L529.00,256.13 L529.25,256.23 L529.50,256.32 L529.75,256.41 L530.00,256.50 L530.25,256.58 L530.50,256.67 L530.75,256.76 L531.00,256.84 L531.25,256.92 L531.50,257.00 L531.75,257.08 L532.00,257.16 L532.25,257.24 L532.50,257.32 L532.75,257.39 L533.00,257.46 L533.25,257.53 L533.50,257.60 L533.75,257.67 L534.00,257.74 L534.25,257.81 L534.50,257.87 L534.75,257.93 L535.00,257.99 L535.25,258.05 L535.50,258.11 L535.75,258.17 L536.00,258.22 L536.25,258.28 L536.50,258.33 L536.75,258.38 L537.00,258.42 L537.25,258.47 L537.50,258.52 L537.75,258.56 L538.00,258.60 L538.25,258.64 L538.50,258.68 L538.75,258.71 L539.00,258.75 L539.25,258.78 L539.50,258.81 L539.75,258.84 L540.00,258.86 L540.25,258.89 L540.50,258.91 L540.75,258.93 L541.00,258.95 L541.25,258.96 L541.50,258.98 L541.75,258.99 L542.00,259.00 L542.25,259.01 L542.50,259.01 L542.75,259.02 L543.00,259.02" stroke="#D95319" stroke-width="2.5" stroke-dasharray="8.75 2.4 4.62 2.4"/>
<path d="M79.50,88.56 L79.75,88.57 L80.00,88.57 L80.25,88.58 L80.50,88.59 L80.75,88.59 L81.00,88.60 L81.25,88.60 L81.50,88.61 L81.75,88.62 L82.00,88.62 L82.25,88.63 L82.50,88.64 L82.75,88.64 L83.00,88.65 L83.25,88.66 L83.50,88.67 L83.75,88.67 L84.00,88.68 L84.25,88.69 L84.50,88.69 L84.75,88.70 L85.00,88.71 L85.25,88.72 L85.50,88.72 L85.75,88.73 L86.00,88.74 L86.25,88.75 L86.50,88.75 L86.75,88.76 L87.00,88.77 L87.25,88.78 L87.50,88.78 L87.75,88.79 L88.00,88.80 L88.25,88.81 L88.50,88.82 L88.75,88.82 L89.00,88.83 L89.25,88.84 L89.50,88.85 L89.75,88.86 L90.00,88.87 L90.25,88.87 L90.50,88.88 L90.75,88.89 L91.00,88.90 L91.25,88.91 L91.50,88.92 L91.75,88.93 L92.00,88.94 L92.25,88.94 L92.50,88.95 L92.75,88.96 L93.00,88.97 L93.25,88.98 L93.50,88.99 L93.75,89.00 L94.00,89.01 L94.25,89.02 L94.50,89.03 L94.75,89.04 L95.00,89.05 L95.25,89.06 L95.50,89.07 L95.75,89.08 L96.00,89.09 L96.25,89.10 L96.50,89.11 L96.75,89.12 L97.00,89.13 L97.25,89.14 L97.50,89.15 L97.75,89.16 L98.00,89.17 L98.25,89.18 L98.50,89.19 L98.75,89.21 L99.00,89.22 L99.25,89.23 L99.50,89.24 L99.75,89.25 L100.00,89.26 L100.25,89.27 L100.50,89.28 L100.75,89.29 L101.00,89.31 L101.25,89.32 L101.50,89.33 L101.75,89.34 L102.00,89.35 L102.25,89.36 L102.50,89.37 L102.75,89.38 L103.00,89.39 L103.25,89.40 L103.50,89.41 L103.75,89.42 L104.00,89.43 L104.25,89.44 L104.50,89.45 L104.75,89.46 L105.00,89.47 L105.25,89.48 L105.50,89.49 L105.75,89.50 L106.00,89.51 L106.25,89.51 L106.50,89.52 L106.75,89.53 L107.00,89.54 L107.25,89.55 L107.50,89.56 L107.75,89.57 L108.00,89.58 L108.25,89.59 L108.50,89.60 L108.75,89.61 L109.00,89.62 L109.25,89.63 L109.50,89.64 L109.75,89.65 L110.00,89.66 L110.25,89.67 L110.50,89.68 L110.75,89.69 L111.00,89.70 L111.25,89.71 L111.50,89.72 L111.75,89.73 L112.00,89.74 L112.25,89.75 L112.50,89.76 L112.75,89.77 L113.00,89.78 L113.25,89.79 L113.50,89.80 L113.75,89.82 L114.00,89.83 L114.25,89.84 L114.50,89.85 L114.75,89.86 L115.00,89.88 L115.25,89.89 L115.50,89.90 L115.75,89.91 L116.00,89.93 L116.25,89.94 L116.50,89.95 L116.75,89.97 L117.00,89.98 L117.25,89.99 L117.50,90.01 L117.75,90.02 L118.00,90.04 L118.25,90.05 L118.50,90.07 L118.75,90.08 L119.00,90.10 L119.25,90.11 L119.50,90.13 L119.75,90.15 L120.00,90.16 L120.25,90.18 L120.50,90.20 L120.75,90.22 L121.00,90.23 L121.25,90.25 L121.50,90.27 L121.75,90.29 L122.00,90.31 L122.25,90.33 L122.50,90.35 L122.75,90.37 L123.00,90.39 L123.25,90.41 L123.50,90.43 L123.75,90.45 L124.00,90.47 L124.25,90.49 L124.50,90.51 L124.75,90.53 L125.00,90.55 L125.25,90.58 L125.50,90.60 L125.75,90.62 L126.00,90.64 L126.25,90.66 L126.50,90.69 L126.75,90.71 L127.00,90.73 L127.25,90.75 L127.50,90.78 L127.75,90.80 L128.00,90.82 L128.25,90.84 L128.50,90.87 L128.75,90.89 L129.00,90.92 L129.25,90.94 L129.50,90.96 L129.75,90.99 L130.00,91.01 L130.25,91.04 L130.50,91.06 L130.75,91.09 L131.00,91.11 L131.25,91.14 L131.50,91.16 L131.75,91.19 L132.00,91.22 L132.25,91.24 L132.50,91.27 L132.75,91.29 L133.00,91.32 L133.25,91.35 L133.50,91.37 L133.75,91.40 L134.00,91.43 L134.25,91.46 L134.50,91.49 L134.75,91.51 L135.00,91.54 L135.25,91.57 L135.50,91.60 L135.75,91.63 L136.00,91.66 L136.25,91.69 L136.50,91.72 L136.75,91.74 L137.00,91.77 L137.25,91.80 L137.50,91.83 L137.75,91.87 L138.00,91.90 L138.25,91.93 L138.50,91.96 L138.75,91.99 L139.00,92.02 L139.25,92.05 L139.50,92.08 L139.75,92.12 L140.00,92.15 L140.25,92.18 L140.50,92.21 L140.75,92.25 L141.00,92.28 L141.25,92.31 L141.50,92.35 L141.75,92.38 L142.00,92.42 L142.25,92.45 L142.50,92.49 L142.75,92.52 L143.00,92.55 L143.25,92.59 L143.50,92.63 L143.75,92.66 L144.00,92.70 L144.25,92.73 L144.50,92.77 L144.75,92.81 L145.00,92.84 L145.25,92.88 L145.50,92.92 L145.75,92.96 L146.00,93.00 L146.25,93.03 L146.50,93.07 L146.75,93.11 L147.00,93.16 L147.25,93.20 L147.50,93.24 L147.75,93.28 L148.00,93.32 L148.25,93.37 L148.50,93.41 L148.75,93.45 L149.00,93.50 L149.25,93.54 L149.50,93.59 L149.75,93.63 L150.00,93.68 L150.25,93.73 L150.50,93.77 L150.75,93.82 L151.00,93.87 L151.25,93.91 L151.50,93.96 L151.75,94.01 L152.00,94.06 L152.25,94.11 L152.50,94.16 L152.75,94.21 L153.00,94.26 L153.25,94.31 L153.50,94.36 L153.75,94.41 L154.00,94.46 L154.25,94.51 L154.50,94.57 L154.75,94.62 L155.00,94.67 L155.25,94.72 L155.50,94.78 L155.75,94.83 L156.00,94.88 L156.25,94.94 L156.50,94.99 L156.75,95.05 L157.00,95.10 L157.25,95.15 L157.50,95.21 L157.75,95.26 L158.00,95.32 L158.25,95.37 L158.50,95.43 L158.75,95.49 L159.00,95.54 L159.25,95.60 L159.50,95.65 L159.75,95.71 L160.00,95.77 L160.25,95.82 L160.50,95.88 L160.75,95.94 L161.00,95.99 L161.25,96.05 L161.50,96.11 L161.75,96.17 L162.00,96.22 L162.25,96.28 L162.50,96.34 L162.75,96.39 L163.00,96.45 L163.25,96.51 L163.50,96.57 L163.75,96.62 L164.00,96.68 L164.25,96.74 L164.50,96.80 L164.75,96.86 L165.00,96.91 L165.25,96.97 L165.50,97.03 L165.75,97.09 L166.00,97.14 L166.25,97.20 L166.50,97.26 L166.75,97.32 L167.00,97.37 L167.25,97.43 L167.50,97.49 L167.75,97.55 L168.00,97.60 L168.25,97.66 L168.50,97.72 L168.75,97.77 L169.00,97.83 L169.25,97.89 L169.50,97.95 L169.75,98.01 L170.00,98.07 L170.25,98.12 L170.50,98.18 L170.75,98.24 L171.00,98.30 L171.25,98.36 L171.50,98.42 L171.75,98.48 L172.00,98.54 L172.25,98.60 L172.50,98.67 L172.75,98.73 L173.00,98.79 L173.25,98.85 L173.50,98.91 L173.75,98.97 L174.00,99.04 L174.25,99.10 L174.50,99.16 L174.75,99.22 L175.00,99.29 L175.25,99.35 L175.50,99.41 L175.75,99.48 L176.00,99.54 L176.25,99.61 L176.50,99.67 L176.75,99.74 L177.00,99.80 L177.25,99.87 L177.50,99.93 L177.75,100.00 L178.00,100.06 L178.25,100.13 L178.50,100.20 L178.75,100.26 L179.00,100.33 L179.25,100.40 L179.50,100.46 L179.75,100.53 L180.00,100.60 L180.25,100.67 L180.50,100.73 L180.75,100.80 L181.00,100.87 L181.25,100.94 L181.50,101.01 L181.75,101.08 L182.00,101.15 L182.25,101.21 L182.50,101.28 L182.75,101.35 L183.00,101.42 L183.25,101.49 L183.50,101.57 L183.75,101.64 L184.00,101.71 L184.25,101.78 L184.50,101.85 L184.75,101.92 L185.00,101.99 L185.25,102.06 L185.50,102.14 L185.75,102.21 L186.00,102.28 L186.25,102.35 L186.50,102.43 L186.75,102.50 L187.00,102.57 L187.25,102.65 L187.50,102.72 L187.75,102.80 L188.00,102.87 L188.25,102.94 L188.50,103.02 L188.75,103.09 L189.00,103.17 L189.25,103.24 L189.50,103.32 L189.75,103.39 L190.00,103.47 L190.25,103.55 L190.50,103.62 L190.75,103.70 L191.00,103.78 L191.25,103.85 L191.50,103.93 L191.75,104.01 L192.00,104.08 L192.25,104.16 L192.50,104.24 L192.75,104.32 L193.00,104.39 L193.25,104.47 L193.50,104.55 L193.75,104.63 L194.00,104.71 L194.25,104.79 L194.50,104.87 L194.75,104.95 L195.00,105.03 L195.25,105.11 L195.50,105.19 L195.75,105.27 L196.00,105.35 L196.25,105.43 L196.50,105.51 L196.75,105.59 L197.00,105.67 L197.25,105.75 L197.50,105.83 L197.75,105.91 L198.00,106.00 L198.25,106.08 L198.50,106.16 L198.75,106.24 L199.00,106.32 L199.25,106.41 L199.50,106.49 L199.75,106.57 L200.00,106.66 L200.25,106.74 L200.50,106.82 L200.75,106.91 L201.00,106.99 L201.25,107.07 L201.50,107.16 L201.75,107.24 L202.00,107.33 L202.25,107.41 L202.50,107.50 L202.75,107.58 L203.00,107.67 L203.25,107.75 L203.50,107.84 L203.75,107.92 L204.00,108.01 L204.25,108.09 L204.50,108.18 L204.75,108.27 L205.00,108.35 L205.25,108.44 L205.50,108.53 L205.75,108.61 L206.00,108.70 L206.25,108.79 L206.50,108.87 L206.75,108.96 L207.00,109.05 L207.25,109.14 L207.50,109.22 L207.75,109.31 L208.00,109.40 L208.25,109.49 L208.50,109.58 L208.75,109.67 L209.00,109.76 L209.25,109.84 L209.50,109.93 L209.75,110.02 L210.00,110.11 L210.25,110.20 L210.50,110.29 L210.75,110.38 L211.00,110.47 L211.25,110.56 L211.50,110.65 L211.75,110.74 L212.00,110.83 L212.25,110.92 L212.50,111.01 L212.75,111.11 L213.00,111.20 L213.25,111.29 L213.50,111.38 L213.75,111.47 L214.00,111.56 L214.25,111.65 L214.50,111.75 L214.75,111.84 L215.00,111.93 L215.25,112.02 L215.50,112.12 L215.75,112.21 L216.00,112.30 L216.25,112.39 L216.50,112.49 L216.75,112.58 L217.00,112.67 L217.25,112.77 L217.50,112.86 L217.75,112.95 L218.00,113.05 L218.25,113.14 L218.50,113.23 L218.75,113.33 L219.00,113.42 L219.25,113.52 L219.50,113.61 L219.75,113.71 L220.00,113.80 L220.25,113.90 L220.50,113.99 L220.75,114.09 L221.00,114.18 L221.25,114.28 L221.50,114.37 L221.75,114.47 L222.00,114.56 L222.25,114.66 L222.50,114.75 L222.75,114.85 L223.00,114.95 L223.25,115.04 L223.50,115.14 L223.75,115.24 L224.00,115.33 L224.25,115.43 L224.50,115.53 L224.75,115.62 L225.00,115.72 L225.25,115.82 L225.50,115.91 L225.75,116.01 L226.00,116.11 L226.25,116.21 L226.50,116.30 L226.75,116.40 L227.00,116.50 L227.25,116.60 L227.50,116.70 L227.75,116.79 L228.00,116.89 L228.25,116.99 L228.50,117.09 L228.75,117.19 L229.00,117.29 L229.25,117.39 L229.50,117.48 L229.75,117.58 L230.00,117.68 L230.25,117.78 L230.50,117.88 L230.75,117.98 L231.00,118.08 L231.25,118.18 L231.50,118.28 L231.75,118.38 L232.00,118.48 L232.25,118.58 L232.50,118.68 L232.75,118.78 L233.00,118.88 L233.25,118.98 L233.50,119.08 L233.75,119.18 L234.00,119.28 L234.25,119.38 L234.50,119.48 L234.75,119.58 L235.00,119.69 L235.25,119.79 L235.50,119.89 L235.75,119.99 L236.00,120.09 L236.25,120.19 L236.50,120.29 L236.75,120.40 L237.00,120.50 L237.25,120.60 L237.50,120.70 L237.75,120.80 L238.00,120.91 L238.25,121.01 L238.50,121.11 L238.75,121.21 L239.00,121.32 L239.25,121.42 L239.50,121.52 L239.75,121.62 L240.00,121.73 L240.25,121.83 L240.50,121.93 L240.75,122.04 L241.00,122.14 L241.25,122.24 L241.50,122.34 L241.75,122.45 L242.00,122.55 L242.25,122.66 L242.50,122.76 L242.75,122.86 L243.00,122.97 L243.25,123.07 L243.50,123.17 L243.75,123.28 L244.00,123.38 L244.25,123.49 L244.50,123.59 L244.75,123.70 L245.00,123.80 L245.25,123.91 L245.50,124.01 L245.75,124.11 L246.00,124.22 L246.25,124.32 L246.50,124.43 L246.75,124.53 L247.00,124.64 L247.25,124.74 L247.50,124.85 L247.75,124.96 L248.00,125.06 L248.25,125.17 L248.50,125.27 L248.75,125.38 L249.00,125.48 L249.25,125.59 L249.50,125.70 L249.75,125.80 L250.00,125.91 L250.25,126.01 L250.50,126.12 L250.75,126.23 L251.00,126.33 L251.25,126.44 L251.50,126.55 L251.75,126.65 L252.00,126.76 L252.25,126.87 L252.50,126.97 L252.75,127.08 L253.00,127.19 L253.25,127.29 L253.50,127.40 L253.75,127.51 L254.00,127.61 L254.25,127.72 L254.50,127.83 L254.75,127.94 L255.00,128.04 L255.25,128.15 L255.50,128.26 L255.75,128.37 L256.00,128.48 L256.25,128.58 L256.50,128.69 L256.75,128.80 L257.00,128.91 L257.25,129.02 L257.50,129.12 L257.75,129.23 L258.00,129.34 L258.25,129.45 L258.50,129.56 L258.75,129.67 L259.00,129.78 L259.25,129.88 L259.50,129.99 L259.75,130.10 L260.00,130.21 L260.25,130.32 L260.50,130.43 L260.75,130.54 L261.00,130.65 L261.25,130.76 L261.50,130.87 L261.75,130.98 L262.00,131.09 L262.25,131.20 L262.50,131.31 L262.75,131.42 L263.00,131.53 L263.25,131.64 L263.50,131.75 L263.75,131.86 L264.00,131.97 L264.25,132.08 L264.50,132.19 L264.75,132.30 L265.00,132.41 L265.25,132.52 L265.50,132.63 L265.75,132.74 L266.00,132.85 L266.25,132.96 L266.50,133.07 L266.75,133.18 L267.00,133.29 L267.25,133.41 L267.50,133.52 L267.75,133.63 L268.00,133.74 L268.25,133.85 L268.50,133.96 L268.75,134.07 L269.00,134.19 L269.25,134.30 L269.50,134.41 L269.75,134.52 L270.00,134.63 L270.25,134.75 L270.50,134.86 L270.75,134.97 L271.00,135.08 L271.25,135.19 L271.50,135.31 L271.75,135.42 L272.00,135.53 L272.25,135.65 L272.50,135.76 L272.75,135.87 L273.00,135.98 L273.25,136.10 L273.50,136.21 L273.75,136.32 L274.00,136.44 L274.25,136.55 L274.50,136.66 L274.75,136.78 L275.00,136.89 L275.25,137.00 L275.50,137.12 L275.75,137.23 L276.00,137.35 L276.25,137.46 L276.50,137.57 L276.75,137.69 L277.00,137.80 L277.25,137.92 L277.50,138.03 L277.75,138.14 L278.00,138.26 L278.25,138.37 L278.50,138.49 L278.75,138.60 L279.00,138.72 L279.25,138.83 L279.50,138.95 L279.75,139.06 L280.00,139.18 L280.25,139.29 L280.50,139.41 L280.75,139.52 L281.00,139.64 L281.25,139.76 L281.50,139.87 L281.75,139.99 L282.00,140.10 L282.25,140.22 L282.50,140.34 L282.75,140.45 L283.00,140.57 L283.25,140.68 L283.50,140.80 L283.75,140.92 L284.00,141.03 L284.25,141.15 L284.50,141.27 L284.75,141.38 L285.00,141.50 L285.25,141.62 L285.50,141.73 L285.75,141.85 L286.00,141.97 L286.25,142.09 L286.50,142.20 L286.75,142.32 L287.00,142.44 L287.25,142.56 L287.50,142.67 L287.75,142.79 L288.00,142.91 L288.25,143.03 L288.50,143.15 L288.75,143.27 L289.00,143.38 L289.25,143.50 L289.50,143.62 L289.75,143.74 L290.00,143.86 L290.25,143.98 L290.50,144.10 L290.75,144.22 L291.00,144.33 L291.25,144.45 L291.50,144.57 L291.75,144.69 L292.00,144.81 L292.25,144.93 L292.50,145.05 L292.75,145.17 L293.00,145.29 L293.25,145.41 L293.50,145.53 L293.75,145.65 L294.00,145.77 L294.25,145.89 L294.50,146.01 L294.75,146.13 L295.00,146.26 L295.25,146.38 L295.50,146.50 L295.75,146.62 L296.00,146.74 L296.25,146.86 L296.50,146.98 L296.75,147.10 L297.00,147.23 L297.25,147.35 L297.50,147.47 L297.75,147.59 L298.00,147.71 L298.25,147.84 L298.50,147.96 L298.75,148.08 L299.00,148.20 L299.25,148.33 L299.50,148.45 L299.75,148.57 L300.00,148.70 L300.25,148.82 L300.50,148.94 L300.75,149.07 L301.00,149.19 L301.25,149.31 L301.50,149.44 L301.75,149.56 L302.00,149.68 L302.25,149.81 L302.50,149.93 L302.75,150.06 L303.00,150.18 L303.25,150.31 L303.50,150.43 L303.75,150.56 L304.00,150.68 L304.25,150.81 L304.50,150.93 L304.75,151.06 L305.00,151.18 L305.25,151.31 L305.50,151.43 L305.75,151.56 L306.00,151.68 L306.25,151.81 L306.50,151.94 L306.75,152.06 L307.00,152.19 L307.25,152.32 L307.50,152.44 L307.75,152.57 L308.00,152.70 L308.25,152.82 L308.50,152.95 L308.75,153.08 L309.00,153.21 L309.25,153.33 L309.50,153.46 L309.75,153.59 L310.00,153.72 L310.25,153.85 L310.50,153.97 L310.75,154.10 L311.00,154.23 L311.25,154.36 L311.50,154.49 L311.75,154.62 L312.00,154.75 L312.25,154.88 L312.50,155.00 L312.75,155.13 L313.00,155.26 L313.25,155.39 L313.50,155.52 L313.75,155.65 L314.00,155.78 L314.25,155.91 L314.50,156.05 L314.75,156.18 L315.00,156.31 L315.25,156.44 L315.50,156.57 L315.75,156.70 L316.00,156.83 L316.25,156.96 L316.50,157.09 L316.75,157.23 L317.00,157.36 L317.25,157.49 L317.50,157.62 L317.75,157.76 L318.00,157.89 L318.25,158.02 L318.50,158.15 L318.75,158.29 L319.00,158.42 L319.25,158.55 L319.50,158.69 L319.75,158.82 L320.00,158.96 L320.25,159.09 L320.50,159.22 L320.75,159.36 L321.00,159.49 L321.25,159.63 L321.50,159.76 L321.75,159.90 L322.00,160.03 L322.25,160.17 L322.50,160.30 L322.75,160.44 L323.00,160.57 L323.25,160.71 L323.50,160.85 L323.75,160.98 L324.00,161.12 L324.25,161.25 L324.50,161.39 L324.75,161.53 L325.00,161.67 L325.25,161.80 L325.50,161.94 L325.75,162.08 L326.00,162.21 L326.25,162.35 L326.50,162.49 L326.75,162.63 L327.00,162.77 L327.25,162.91 L327.50,163.04 L327.75,163.18 L328.00,163.32 L328.25,163.46 L328.50,163.60 L328.75,163.74 L329.00,163.88 L329.25,164.02 L329.50,164.16 L329.75,164.30 L330.00,164.44 L330.25,164.58 L330.50,164.72 L330.75,164.86 L331.00,165.00 L331.25,165.14 L331.50,165.29 L331.75,165.43 L332.00,165.57 L332.25,165.71 L332.50,165.85 L332.75,166.00 L333.00,166.14 L333.25,166.28 L333.50,166.42 L333.75,166.57 L334.00,166.71 L334.25,166.85 L334.50,167.00 L334.75,167.14 L335.00,167.28 L335.25,167.43 L335.50,167.57 L335.75,167.72 L336.00,167.86 L336.25,168.01 L336.50,168.15 L336.75,168.30 L337.00,168.44 L337.25,168.59 L337.50,168.73 L337.75,168.88 L338.00,169.02 L338.25,169.17 L338.50,169.31 L338.75,169.46 L339.00,169.61 L339.25,169.75 L339.50,169.90 L339.75,170.05 L340.00,170.20 L340.25,170.34 L340.50,170.49 L340.75,170.64 L341.00,170.79 L341.25,170.93 L341.50,171.08 L341.75,171.23 L342.00,171.38 L342.25,171.53 L342.50,171.68 L342.75,171.83 L343.00,171.98 L343.25,172.13 L343.50,172.28 L343.75,172.43 L344.00,172.58 L344.25,172.73 L344.50,172.88 L344.75,173.03 L345.00,173.18 L345.25,173.33 L345.50,173.48 L345.75,173.63 L346.00,173.78 L346.25,173.93 L346.50,174.08 L346.75,174.24 L347.00,174.39 L347.25,174.54 L347.50,174.69 L347.75,174.85 L348.00,175.00 L348.25,175.15 L348.50,175.30 L348.75,175.46 L349.00,175.61 L349.25,175.76 L349.50,175.92 L349.75,176.07 L350.00,176.23 L350.25,176.38 L350.50,176.53 L350.75,176.69 L351.00,176.84 L351.25,177.00 L351.50,177.15 L351.75,177.31 L352.00,177.46 L352.25,177.62 L352.50,177.77 L352.75,177.93 L353.00,178.09 L353.25,178.24 L353.50,178.40 L353.75,178.55 L354.00,178.71 L354.25,178.87 L354.50,179.02 L354.75,179.18 L355.00,179.34 L355.25,179.49 L355.50,179.65 L355.75,179.81 L356.00,179.97 L356.25,180.12 L356.50,180.28 L356.75,180.44 L357.00,180.60 L357.25,180.76 L357.50,180.92 L357.75,181.07 L358.00,181.23 L358.25,181.39 L358.50,181.55 L358.75,181.71 L359.00,181.87 L359.25,182.03 L359.50,182.19 L359.75,182.35 L360.00,182.51 L360.25,182.67 L360.50,182.83 L360.75,182.99 L361.00,183.15 L361.25,183.31 L361.50,183.47 L361.75,183.63 L362.00,183.79 L362.25,183.95 L362.50,184.11 L362.75,184.27 L363.00,184.43 L363.25,184.59 L363.50,184.75 L363.75,184.91 L364.00,185.08 L364.25,185.24 L364.50,185.40 L364.75,185.56 L365.00,185.72 L365.25,185.88 L365.50,186.05 L365.75,186.21 L366.00,186.37 L366.25,186.53 L366.50,186.69 L366.75,186.86 L367.00,187.02 L367.25,187.18 L367.50,187.34 L367.75,187.51 L368.00,187.67 L368.25,187.83 L368.50,187.99 L368.75,188.16 L369.00,188.32 L369.25,188.48 L369.50,188.65 L369.75,188.81 L370.00,188.97 L370.25,189.14 L370.50,189.30 L370.75,189.46 L371.00,189.63 L371.25,189.79 L371.50,189.95 L371.75,190.11 L372.00,190.28 L372.25,190.44 L372.50,190.60 L372.75,190.77 L373.00,190.93 L373.25,191.09 L373.50,191.26 L373.75,191.42 L374.00,191.58 L374.25,191.75 L374.50,191.91 L374.75,192.07 L375.00,192.24 L375.25,192.40 L375.50,192.56 L375.75,192.73 L376.00,192.89 L376.25,193.05 L376.50,193.22 L376.75,193.38 L377.00,193.54 L377.25,193.71 L377.50,193.87 L377.75,194.03 L378.00,194.19 L378.25,194.36 L378.50,194.52 L378.75,194.68 L379.00,194.85 L379.25,195.01 L379.50,195.17 L379.75,195.33 L380.00,195.49 L380.25,195.66 L380.50,195.82 L380.75,195.98 L381.00,196.14 L381.25,196.30 L381.50,196.47 L381.75,196.63 L382.00,196.79 L382.25,196.95 L382.50,197.11 L382.75,197.27 L383.00,197.43 L383.25,197.59 L383.50,197.75 L383.75,197.91 L384.00,198.07 L384.25,198.23 L384.50,198.39 L384.75,198.55 L385.00,198.71 L385.25,198.87 L385.50,199.03 L385.75,199.18 L386.00,199.34 L386.25,199.50 L386.50,199.66 L386.75,199.81 L387.00,199.97 L387.25,200.13 L387.50,200.29 L387.75,200.44 L388.00,200.60 L388.25,200.75 L388.50,200.91 L388.75,201.06 L389.00,201.22 L389.25,201.37 L389.50,201.53 L389.75,201.68 L390.00,201.83 L390.25,201.98 L390.50,202.14 L390.75,202.29 L391.00,202.44 L391.25,202.60 L391.50,202.75 L391.75,202.90 L392.00,203.06 L392.25,203.21 L392.50,203.36 L392.75,203.51 L393.00,203.66 L393.25,203.82 L393.50,203.97 L393.75,204.12 L394.00,204.27 L394.25,204.42 L394.50,204.57 L394.75,204.72 L395.00,204.87 L395.25,205.02 L395.50,205.17 L395.75,205.32 L396.00,205.46 L396.25,205.61 L396.50,205.76 L396.75,205.90 L397.00,206.05 L397.25,206.19 L397.50,206.34 L397.75,206.48 L398.00,206.62 L398.25,206.76 L398.50,206.90 L398.75,207.04 L399.00,207.18 L399.25,207.32 L399.50,207.46 L399.75,207.59 L400.00,207.73 L400.25,207.86 L400.50,207.99 L400.75,208.13 L401.00,208.26 L401.25,208.38 L401.50,208.51 L401.75,208.64 L402.00,208.76 L402.25,208.89 L402.50,209.01 L402.75,209.13 L403.00,209.25 L403.25,209.37 L403.50,209.49 L403.75,209.61 L404.00,209.73 L404.25,209.84 L404.50,209.95 L404.75,210.07 L405.00,210.18 L405.25,210.29 L405.50,210.39 L405.75,210.50 L406.00,210.60 L406.25,210.70 L406.50,210.80 L406.75,210.90 L407.00,211.00 L407.25,211.09 L407.50,211.18 L407.75,211.27 L408.00,211.36 L408.25,211.44 L408.50,211.52 L408.75,211.60 L409.00,211.68 L409.25,211.75 L409.50,211.82 L409.75,211.89 L410.00,211.95 L410.25,212.01 L410.50,212.07 L410.75,212.12 L411.00,212.17 L411.25,212.22 L411.50,212.26 L411.75,212.30 L412.00,212.33 L412.25,212.36 L412.50,212.38 L412.75,212.40 L413.00,212.42 L413.25,212.43 L413.50,212.44 L413.75,212.44 L414.00,212.44 L414.25,212.43 L414.50,212.42 L414.75,212.40 L415.00,212.37 L415.25,212.35 L415.50,212.31 L415.75,212.27 L416.00,212.23 L416.25,212.18 L416.50,212.12 L416.75,212.06 L417.00,211.99 L417.25,211.91 L417.50,211.83 L417.75,211.74 L418.00,211.65 L418.25,211.55 L418.50,211.44 L418.75,211.32 L419.00,211.20 L419.25,211.07 L419.50,210.94 L419.75,210.80 L420.00,210.65 L420.25,210.50 L420.50,210.35 L420.75,210.18 L421.00,210.02 L421.25,209.85 L421.50,209.68 L421.75,209.50 L422.00,209.33 L422.25,209.16 L422.50,208.99 L422.75,208.82 L423.00,208.67 L423.25,208.52 L423.50,208.38 L423.75,208.26 L424.00,208.15 L424.25,208.07 L424.50,208.01 L424.75,207.98 L425.00,207.99 L425.25,208.03 L425.50,208.11 L425.75,208.23 L426.00,208.40 L426.25,208.62 L426.50,208.89 L426.75,209.22 L427.00,209.61 L427.25,210.05 L427.50,210.55 L427.75,211.11 L428.00,211.72 L428.25,212.39 L428.50,213.11 L428.75,213.87 L429.00,214.68 L429.25,215.52 L429.50,216.40 L429.75,217.31 L430.00,218.25 L430.25,219.20 L430.50,220.17 L430.75,221.16 L431.00,222.16 L431.25,223.16 L431.50,224.17 L431.75,225.18 L432.00,226.19 L432.25,227.19 L432.50,228.18 L432.75,229.17 L433.00,230.15 L433.25,231.11 L433.50,232.06 L433.75,233.00 L434.00,233.93 L434.25,234.84 L434.50,235.74 L434.75,236.62 L435.00,237.49 L435.25,238.34 L435.50,239.17 L435.75,239.99 L436.00,240.79 L436.25,241.58 L436.50,242.34 L436.75,243.10 L437.00,243.84 L437.25,244.55 L437.50,245.26 L437.75,245.94 L438.00,246.61 L438.25,247.25 L438.50,247.89 L438.75,248.50 L439.00,249.10 L439.25,249.68 L439.50,250.24 L439.75,250.79 L440.00,251.33 L440.25,251.85 L440.50,252.35 L440.75,252.85 L441.00,253.32 L441.25,253.79 L441.50,254.24 L441.75,254.68 L442.00,255.11 L442.25,255.53 L442.50,255.94 L442.75,256.34 L443.00,256.73 L443.25,257.11 L443.50,257.48 L443.75,257.84 L444.00,258.20 L444.25,258.54 L444.50,258.89 L444.75,259.22 L445.00,259.55 L445.25,259.88 L445.50,260.19 L445.75,260.50 L446.00,260.81 L446.25,261.10 L446.50,261.40 L446.75,261.68 L447.00,261.96 L447.25,262.24 L447.50,262.51 L447.75,262.78 L448.00,263.04 L448.25,263.30 L448.50,263.56 L448.75,263.81 L449.00,264.06 L449.25,264.30 L449.50,264.55 L449.75,264.78 L450.00,265.02 L450.25,265.25 L450.50,265.48 L450.75,265.71 L451.00,265.94 L451.25,266.16 L451.50,266.38 L451.75,266.60 L452.00,266.82 L452.25,267.04 L452.50,267.25 L452.75,267.46 L453.00,267.68 L453.25,267.89 L453.50,268.09 L453.75,268.30 L454.00,268.51 L454.25,268.71 L454.50,268.91 L454.75,269.12 L455.00,269.32 L455.25,269.52 L455.50,269.72 L455.75,269.91 L456.00,270.11 L456.25,270.31 L456.50,270.50 L456.75,270.69 L457.00,270.89 L457.25,271.08 L457.50,271.27 L457.75,271.46 L458.00,271.65 L458.25,271.84 L458.50,272.03 L458.75,272.22 L459.00,272.40 L459.25,272.59 L459.50,272.77 L459.75,272.96 L460.00,273.14 L460.25,273.33 L460.50,273.51 L460.75,273.69 L461.00,273.87 L461.25,274.06 L461.50,274.24 L461.75,274.42 L462.00,274.60 L462.25,274.79 L462.50,274.97 L462.75,275.15 L463.00,275.33 L463.25,275.51 L463.50,275.69 L463.75,275.88 L464.00,276.06 L464.25,276.24 L464.50,276.42 L464.75,276.60 L465.00,276.78 L465.25,276.96 L465.50,277.14 L465.75,277.32 L466.00,277.51 L466.25,277.69 L466.50,277.87 L466.75,278.05 L467.00,278.23 L467.25,278.41 L467.50,278.59 L467.75,278.77 L468.00,278.95 L468.25,279.13 L468.50,279.31 L468.75,279.50 L469.00,279.68 L469.25,279.86 L469.50,280.04 L469.75,280.22 L470.00,280.40 L470.25,280.58 L470.50,280.76 L470.75,280.94 L471.00,281.12 L471.25,281.30 L471.50,281.49 L471.75,281.67 L472.00,281.85 L472.25,282.03 L472.50,282.21 L472.75,282.39 L473.00,282.57 L473.25,282.75 L473.50,282.93 L473.75,283.11 L474.00,283.30 L474.25,283.48 L474.50,283.66 L474.75,283.84 L475.00,284.02 L475.25,284.20 L475.50,284.38 L475.75,284.56 L476.00,284.74 L476.25,284.92 L476.50,285.10 L476.75,285.28 L477.00,285.46 L477.25,285.65 L477.50,285.83 L477.75,286.01 L478.00,286.19 L478.25,286.37 L478.50,286.55 L478.75,286.73 L479.00,286.91 L479.25,287.09 L479.50,287.27 L479.75,287.45 L480.00,287.63 L480.25,287.81 L480.50,287.99 L480.75,288.17 L481.00,288.35 L481.25,288.53 L481.50,288.71 L481.75,288.89 L482.00,289.07 L482.25,289.25 L482.50,289.43 L482.75,289.60 L483.00,289.78 L483.25,289.96 L483.50,290.14 L483.75,290.32 L484.00,290.50 L484.25,290.68 L484.50,290.86 L484.75,291.03 L485.00,291.21 L485.25,291.39 L485.50,291.57 L485.75,291.75 L486.00,291.93 L486.25,292.10 L486.50,292.28 L486.75,292.46 L487.00,292.64 L487.25,292.81 L487.50,292.99 L487.75,293.17 L488.00,293.34 L488.25,293.52 L488.50,293.70 L488.75,293.87 L489.00,294.05 L489.25,294.22 L489.50,294.40 L489.75,294.57 L490.00,294.75 L490.25,294.93 L490.50,295.10 L490.75,295.28 L491.00,295.45 L491.25,295.62 L491.50,295.80 L491.75,295.97 L492.00,296.15 L492.25,296.32 L492.50,296.49 L492.75,296.67 L493.00,296.84 L493.25,297.01 L493.50,297.19 L493.75,297.36 L494.00,297.53 L494.25,297.70 L494.50,297.87 L494.75,298.04 L495.00,298.22 L495.25,298.39 L495.50,298.56 L495.75,298.73 L496.00,298.90 L496.25,299.07 L496.50,299.24 L496.75,299.41 L497.00,299.58 L497.25,299.74 L497.50,299.91 L497.75,300.08 L498.00,300.25 L498.25,300.42 L498.50,300.58 L498.75,300.75 L499.00,300.92 L499.25,301.08 L499.50,301.25 L499.75,301.42 L500.00,301.58 L500.25,301.75 L500.50,301.91 L500.75,302.08 L501.00,302.24 L501.25,302.40 L501.50,302.57 L501.75,302.73 L502.00,302.89 L502.25,303.06 L502.50,303.22 L502.75,303.38 L503.00,303.54 L503.25,303.70 L503.50,303.86 L503.75,304.02 L504.00,304.18 L504.25,304.34 L504.50,304.50 L504.75,304.66 L505.00,304.82 L505.25,304.98 L505.50,305.13 L505.75,305.29 L506.00,305.45 L506.25,305.60 L506.50,305.76 L506.75,305.91 L507.00,306.07 L507.25,306.22 L507.50,306.38 L507.75,306.53 L508.00,306.68 L508.25,306.84 L508.50,306.99 L508.75,307.14 L509.00,307.29 L509.25,307.44 L509.50,307.59 L509.75,307.74 L510.00,307.89 L510.25,308.04 L510.50,308.19 L510.75,308.33 L511.00,308.48 L511.25,308.63 L511.50,308.77 L511.75,308.92 L512.00,309.06 L512.25,309.21 L512.50,309.35 L512.75,309.49 L513.00,309.64 L513.25,309.78 L513.50,309.92 L513.75,310.06 L514.00,310.20 L514.25,310.34 L514.50,310.48 L514.75,310.62 L515.00,310.76 L515.25,310.89 L515.50,311.03 L515.75,311.17 L516.00,311.30 L516.25,311.43 L516.50,311.57 L516.75,311.70 L517.00,311.83 L517.25,311.97 L517.50,312.10 L517.75,312.23 L518.00,312.36 L518.25,312.49 L518.50,312.61 L518.75,312.74 L519.00,312.87 L519.25,312.99 L519.50,313.12 L519.75,313.24 L520.00,313.37 L520.25,313.49 L520.50,313.61 L520.75,313.73 L521.00,313.85 L521.25,313.97 L521.50,314.09 L521.75,314.21 L522.00,314.33 L522.25,314.44 L522.50,314.56 L522.75,314.67 L523.00,314.79 L523.25,314.90 L523.50,315.01 L523.75,315.12 L524.00,315.23 L524.25,315.34 L524.50,315.45 L524.75,315.56 L525.00,315.66 L525.25,315.77 L525.50,315.87 L525.75,315.98 L526.00,316.08 L526.25,316.18 L526.50,316.28 L526.75,316.38 L527.00,316.48 L527.25,316.58 L527.50,316.67 L527.75,316.77 L528.00,316.86 L528.25,316.95 L528.50,317.05 L528.75,317.14 L529.00,317.23 L529.25,317.31 L529.50,317.40 L529.75,317.49 L530.00,317.57 L530.25,317.66 L530.50,317.74 L530.75,317.82 L531.00,317.90 L531.25,317.98 L531.50,318.06 L531.75,318.13 L532.00,318.21 L532.25,318.28 L532.50,318.35 L532.75,318.42 L533.00,318.49 L533.25,318.56 L533.50,318.63 L533.75,318.70 L534.00,318.76 L534.25,318.82 L534.50,318.88 L534.75,318.94 L535.00,319.00 L535.25,319.06 L535.50,319.11 L535.75,319.17 L536.00,319.22 L536.25,319.27 L536.50,319.32 L536.75,319.37 L537.00,319.41 L537.25,319.46 L537.50,319.50 L537.75,319.54 L538.00,319.58 L538.25,319.62 L538.50,319.65 L538.75,319.69 L539.00,319.72 L539.25,319.75 L539.50,319.78 L539.75,319.81 L540.00,319.83 L540.25,319.86 L540.50,319.88 L540.75,319.90 L541.00,319.91 L541.25,319.93 L541.50,319.94 L541.75,319.95 L542.00,319.96 L542.25,319.97 L542.50,319.98 L542.75,319.98 L543.00,319.98" stroke="#0072BD" stroke-width="2.6"/>
</g>
<rect x="450.4" y="42.4" width="80.2" height="52" fill="#fff" stroke="#222" stroke-width="1"/>
<path d="M455,56.1H501.5" stroke="#D95319" stroke-width="2.5" stroke-dasharray="8.75 2.4 4.62 2.4"/>
<path d="M455,80.5H501.5" stroke="#0072BD" stroke-width="2.6"/>
<g style="font-family:'Liberation Sans',Arial,sans-serif;font-size:17.2px;fill:#111;stroke:#111;stroke-width:0.25px;letter-spacing:0.6px">
<text x="504.2" y="62.9" style="font-size:17.7px">Pz</text><text x="504.2" y="87.3" style="font-size:17.7px">Px</text>
<text x="72.6" y="44.60" text-anchor="end">40</text>
<text x="72.6" y="105.88" text-anchor="end">20</text>
<text x="72.6" y="167.16" text-anchor="end">0</text>
<text x="72.6" y="228.44" text-anchor="end">20</text>
<text x="48.1" y="227.84" text-anchor="end" style="stroke-width:0.45px">−</text>
<text x="72.6" y="289.72" text-anchor="end">40</text>
<text x="48.1" y="289.12" text-anchor="end" style="stroke-width:0.45px">−</text>
<text x="72.6" y="351.00" text-anchor="end">60</text>
<text x="48.1" y="350.40" text-anchor="end" style="stroke-width:0.45px">−</text>
<text x="64.90" y="373.0">10</text><text x="85.50" y="363.9" style="font-size:13.2px;letter-spacing:0">0</text>
<text x="205.31" y="373.0">10</text><text x="225.91" y="363.9" style="font-size:13.2px;letter-spacing:0">1</text>
<text x="345.72" y="373.0">10</text><text x="366.32" y="363.9" style="font-size:13.2px;letter-spacing:0">2</text>
<text x="486.13" y="373.0">10</text><text x="506.73" y="363.9" style="font-size:13.2px;letter-spacing:0">3</text>
</g>
<g style="font-family:'Liberation Serif','Times New Roman',serif;font-size:22.4px;fill:#151515">
<text x="224.3" y="19.5" textLength="49.2" lengthAdjust="spacing">Bode</text>
<text x="280.5" y="19.5" textLength="75.2" lengthAdjust="spacing">diagram</text>
<text x="222.9" y="394.6" textLength="98.3" lengthAdjust="spacing">Frequency</text>
<text x="330.2" y="394.6" textLength="43.6" lengthAdjust="spacing">(Hz)</text>
<g transform="translate(26.6,0) rotate(-90)"><text x="-260.0" y="0" textLength="94.2" lengthAdjust="spacing">Magnitute</text><text x="-156.8" y="0">(dB</text><text x="-121.6" y="0">)</text></g>
</g>
</svg>
</body></html>
